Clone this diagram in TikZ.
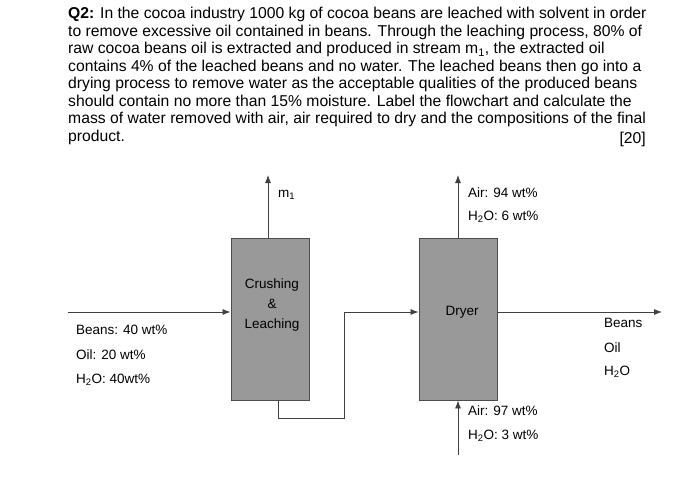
\documentclass[tikz,border=0pt]{standalone}
\usepackage{fontspec}
\setmainfont{Liberation Sans}
\usetikzlibrary{arrows.meta}
\begin{document}
\begin{tikzpicture}[x=1pt,y=-1pt,
  unit/.style={draw=black!70,fill=black!40,line width=0.9pt},
  flow/.style={draw=black!75,line width=0.8pt,-{Latex[length=8pt,width=6pt]}},
  pipe/.style={draw=black!75,line width=0.8pt},
  lbl/.style={font=\fontsize{13.5}{15}\selectfont,anchor=west,inner sep=0pt}]
\useasboundingbox (0,0) rectangle (700,481);
\node[anchor=north west,inner sep=0pt,align=left,font=\fontsize{15.7}{17.5}\selectfont] (q) at (68,7) {%
\textbf{Q2:} In the cocoa industry 1000 kg of cocoa beans are leached with solvent in order\\
to remove excessive oil contained in beans. Through the leaching process, 80\% of\\
raw cocoa beans oil is extracted and produced in stream m\textsubscript{1}, the extracted oil\\
contains 4\% of the leached beans and no water. The leached beans then go into a\\
drying process to remove water as the acceptable qualities of the produced beans\\
should contain no more than 15\% moisture. Label the flowchart and calculate the\\
mass of water removed with air, air required to dry and the compositions of the final\\
product.};
\node[anchor=east,inner sep=0pt,font=\fontsize{15.7}{17.5}\selectfont] (mk) at (646,139) {[20]};
\node[unit,minimum width=78pt,minimum height=162pt,inner sep=0pt] (cl) at (270,319) {};
\node[unit,minimum width=78pt,minimum height=162pt,inner sep=0pt] (dr) at (458,319) {};
\node[font=\fontsize{13.5}{15}\selectfont,align=center,inner sep=0pt] (clt) at (272,305) {Crushing\\[5pt]\&\\[5pt]Leaching};
\node[font=\fontsize{13.5}{15}\selectfont,inner sep=0pt] (drt) at (462,312) {Dryer};
\coordinate (in) at (68,312);
\draw[flow] (in) -- (cl.west |- in);
\coordinate (m1) at (268,175);
\draw[flow] (cl.north -| m1) -- (m1);
\node[lbl] (m1t) at (278,195) {m\textsubscript{1}};
\coordinate (b1) at (278,418);
\coordinate (b2) at (344,418);
\draw[pipe] (cl.south -| b1) -- (b1) -- (b2) -- (344,312);
\draw[flow] (344,312) -- (dr.west |- in);
\coordinate (ao) at (458,175);
\draw[flow] (dr.north -| ao) -- (ao);
\coordinate (ai) at (458,455);
\draw[flow] (ai) -- (dr.south -| ai);
\coordinate (out) at (662,312);
\draw[flow] (dr.east |- out) -- (out);
\node[lbl] at (76,330) {Beans: 40 wt\%};
\node[lbl] at (76,355) {Oil: 20 wt\%};
\node[lbl] at (76,380) {H\textsubscript{2}O: 40wt\%};
\node[lbl] at (468,193) {Air: 94 wt\%};
\node[lbl] at (468,217) {H\textsubscript{2}O: 6 wt\%};
\node[lbl] at (468,411) {Air: 97 wt\%};
\node[lbl] at (468,436) {H\textsubscript{2}O: 3 wt\%};
\node[lbl] at (604,323) {Beans};
\node[lbl] at (604,348) {Oil};
\node[lbl] at (604,372) {H\textsubscript{2}O};
\end{tikzpicture}
\end{document}
